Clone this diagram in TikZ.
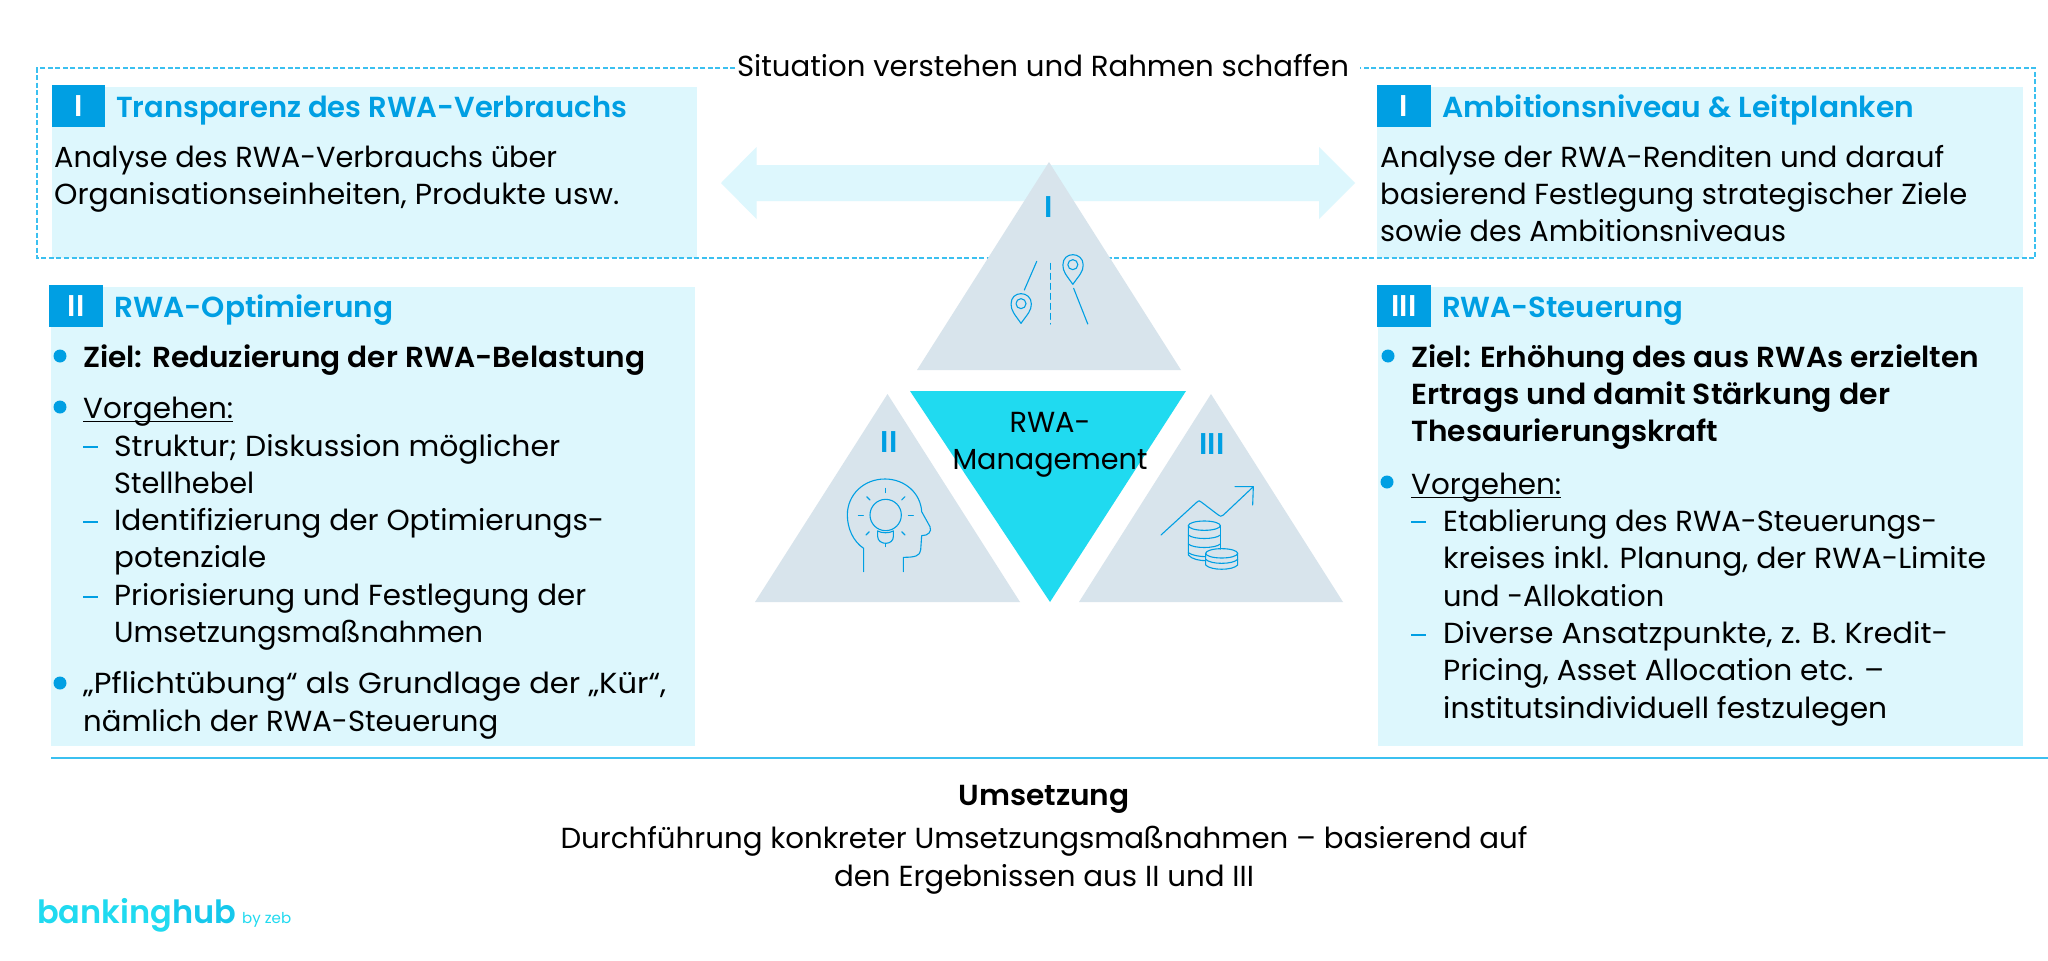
\documentclass[tikz,border=0pt]{standalone}
\usepackage{graphicx}
\usepackage{fontspec}
\setmainfont[BoldFont={Poppins SemiBold}]{Poppins}
\newcommand{\fw}[2]{\resizebox{#1pt}{\height}{#2}}
\definecolor{boxc}{HTML}{DDF7FD}
\definecolor{blue1}{HTML}{009FE3}
\definecolor{cyan1}{HTML}{20DAF0}
\definecolor{gray1}{HTML}{D8E4EC}
\definecolor{line1}{HTML}{3BC0F0}
\tikzset{
 x=1pt,y=-1pt,
 box/.style={fill=boxc,draw=none},
 badge/.style={fill=blue1,draw=none},
 tri/.style={fill=gray1,draw=none},
 head/.style={anchor=base west,inner sep=0pt,text=blue1,font=\fontsize{29}{29}\selectfont\bfseries},
 body/.style={anchor=base west,inner sep=0pt,text=black,font=\fontsize{29}{29}\selectfont},
 bodyb/.style={body,font=\fontsize{29}{29}\selectfont\bfseries},
 badgetxt/.style={anchor=center,inner sep=0pt,text=white,font=\fontsize{30}{30}\selectfont\bfseries},
 numtxt/.style={anchor=center,inner sep=0pt,text=blue1,font=\fontsize{30}{30}\selectfont\bfseries},
 bul/.style={circle,fill=blue1,inner sep=0pt,minimum size=13pt},
 dsh/.style={draw=blue1,line width=1.5pt},
 ctr/.style={anchor=base,inner sep=0pt,align=center,text=black,font=\fontsize{29}{29}\selectfont},
 ul/.style={draw=black,line width=1.7pt},
 ico/.style={draw=blue1,line width=1.1pt,fill=none,line join=round,line cap=round},
 zoomA/.style={shift={(720,150)},x=0.41459pt,y=-0.33333pt},
 zoomB/.style={x=0.33333pt,y=-0.33333pt},
 pinmark/.pic={
  \draw[ico] (0,0) .. controls (-16,-28) and (-24,-38) .. (-24,-58) .. controls (-24,-78) and (-13,-89) .. (0,-89) .. controls (13,-89) and (25,-78) .. (25,-58) .. controls (25,-38) and (16,-28) .. (0,0);
  \draw[ico] (0,-59) circle[radius=5pt];
 },
}
\begin{document}
\begin{tikzpicture}
\useasboundingbox (0,0) rectangle (2048,961);
\fill[white] (0,0) rectangle (2048,961);
% boxes
\fill[box] (52,87) rectangle (697,258);
\fill[box] (1377,87) rectangle (2023,258);
\fill[box] (51,287) rectangle (695,746);
\fill[box] (1378,287) rectangle (2023,746);
% frame
\draw[line1,line width=1.1pt,dash pattern=on 5pt off 2.5pt] (735,68) -- (37,68) -- (37,258) -- (2035,258) -- (2035,68) -- (1360,68);
% rule
\draw[line1,line width=1.2pt] (51,758) -- (2048,758);
% arrow
\fill[boxc] (721,183) -- (756.5,147) -- (756.5,165) -- (1319,165) -- (1319,147) -- (1355,183) -- (1319,219) -- (1319,201) -- (756.5,201) -- (756.5,219) -- cycle;
% triangles
\fill[tri] (1049,162) -- (1181,370) -- (917,370) -- cycle;
\fill[tri] (887.5,394) -- (1020,602) -- (755,602) -- cycle;
\fill[tri] (1211,394) -- (1343,602) -- (1079,602) -- cycle;
\fill[cyan1] (910,391) -- (1186,391) -- (1050,602) -- cycle;
% badges
\fill[badge] (52,85) rectangle (105,127);
\fill[badge] (1377,85) rectangle (1431,127);
\fill[badge] (49,285) rectangle (102.5,327);
\fill[badge] (1377,285) rectangle (1431,327);
\node[badgetxt] (b1) at (78.5,106) {I};
\node[badgetxt] (b2) at (1404,106) {I};
\node[badgetxt] (b3) at (76,306) {II};
\node[badgetxt] (b4) at (1404,306) {III};
% title
\node[ctr] (title) at (1043,76) {\fw{612}{Situation verstehen und Rahmen schaffen}};
% left top
\node[head] (h1) at (116,117) {\fw{511}{Transparenz des RWA-Verbrauchs}};
\node[body] (t1a) at (54,167) {\fw{503}{Analyse des RWA-Verbrauchs über}};
\node[body] (t1b) at (54,204) {\fw{565}{Organisationseinheiten, Produkte usw.}};
% right top
\node[head] (h2) at (1442,117) {\fw{472}{Ambitionsniveau \& Leitplanken}};
\node[body] (t2a) at (1380,167) {\fw{564}{Analyse der RWA-Renditen und darauf}};
\node[body] (t2b) at (1380,204) {\fw{587}{basierend Festlegung strategischer Ziele}};
\node[body] (t2c) at (1380,241) {\fw{406}{sowie des Ambitionsniveaus}};
% left
\node[head] (h3) at (114,317) {\fw{279}{RWA-Optimierung}};
\node[bul] (bl1) at (60,356) {};
\node[bodyb] (l1) at (83,367) {\fw{562}{Ziel: Reduzierung der RWA-Belastung}};
\node[bul] (bl2) at (60,407) {};
\node[body] (l2) at (83,418) {\fw{150}{Vorgehen:}};
\draw[ul] ([yshift=-3.5pt]l2.base west) -- ([yshift=-3.5pt]l2.base east);
\draw[dsh] (83,447) -- (98,447);
\node[body] (l3) at (114,456) {\fw{446}{Struktur; Diskussion möglicher}};
\node[body] (l4) at (114,493) {\fw{140}{Stellhebel}};
\draw[dsh] (83,522) -- (98,522);
\node[body] (l5) at (114,530) {\fw{490}{Identifizierung der Optimierungs-}};
\node[body] (l6) at (114,567) {\fw{152}{potenziale}};
\draw[dsh] (83,597) -- (98,597);
\node[body] (l7) at (114,605) {\fw{472}{Priorisierung und Festlegung der}};
\node[body] (l8) at (114,642) {\fw{369}{Umsetzungsmaßnahmen}};
\node[bul] (bl3) at (60,683) {};
\node[body] (l9) at (83,693) {\fw{583}{„Pflichtübung“ als Grundlage der „Kür“,}};
\node[body] (l10) at (83,731) {\fw{415}{nämlich der RWA-Steuerung}};
% right
\node[head] (h4) at (1442,317) {\fw{241}{RWA-Steuerung}};
\node[bul] (br1) at (1388,356) {};
\node[bodyb] (r1) at (1411,367) {\fw{568}{Ziel: Erhöhung des aus RWAs erzielten}};
\node[bodyb] (r2) at (1411,404) {\fw{479}{Ertrags und damit Stärkung der}};
\node[bodyb] (r3) at (1411,441) {\fw{307}{Thesaurierungskraft}};
\node[bul] (br2) at (1387,482) {};
\node[body] (r4) at (1411,494) {\fw{150}{Vorgehen:}};
\draw[ul] ([yshift=-3.5pt]r4.base west) -- ([yshift=-3.5pt]r4.base east);
\draw[dsh] (1411,522) -- (1426,522);
\node[body] (r5) at (1443,531) {\fw{494}{Etablierung des RWA-Steuerungs-}};
\node[body] (r6) at (1443,568) {\fw{543}{kreises inkl. Planung, der RWA-Limite}};
\node[body] (r7) at (1443,606) {\fw{221}{und -Allokation}};
\draw[dsh] (1411,635) -- (1426,635);
\node[body] (r8) at (1443,643) {\fw{505}{Diverse Ansatzpunkte, z. B. Kredit-}};
\node[body] (r9) at (1443,680) {\fw{441}{Pricing, Asset Allocation etc. –}};
\node[body] (r10) at (1443,718) {\fw{444}{institutsindividuell festzulegen}};
% centre
\node[ctr] (m1) at (1050,432) {\fw{81}{RWA-}};
\node[ctr] (m2) at (1050,469) {\fw{195}{Management}};
\node[numtxt] (n1) at (1049,207) {I};
\node[numtxt] (n2) at (889,442) {II};
\node[numtxt] (n3) at (1212,444) {III};
% road icon
\begin{scope}[zoomA]
\draw[ico] (764,334) -- (734,420);
\draw[ico,dash pattern=on 6pt off 4pt] (798,340) -- (798,522);
\draw[ico] (853,415) -- (887,522);
\pic at (851,403) {pinmark};
\pic at (726,520) {pinmark};
\end{scope}
% head icon
\begin{scope}[shift={(830,470)},zoomB]
\draw[ico] (101,305) -- (101,235) .. controls (70,215) and (52,175) .. (52,135) .. controls (52,75) and (100,27) .. (165,27) .. controls (225,27) and (272,70) .. (275,125) -- (300,170) .. controls (306,185) and (295,197) .. (275,197) -- (272,240) .. controls (270,258) and (255,262) .. (220,262) -- (220,305);
\draw[ico] (167,135) circle[radius=47];
\draw[ico] (143,183) -- (143,200) .. controls (143,212) and (155,220) .. (167,220) .. controls (180,220) and (190,212) .. (190,200) -- (190,183);
\draw[ico] (143,183) .. controls (155,190) and (178,190) .. (190,183);
\draw[ico] (167,220) -- (167,230);
\draw[ico] (167,55) -- (167,68);
\draw[ico] (110,80) -- (120,90);
\draw[ico] (225,80) -- (215,90);
\draw[ico] (85,137) -- (100,137);
\draw[ico] (235,137) -- (250,137);
\draw[ico] (108,195) -- (118,185);
\draw[ico] (225,195) -- (215,185);
\end{scope}
% chart icon
\begin{scope}[shift={(1150,470)},zoomB]
\draw[ico] (33,195) -- (140,97) .. controls (148,91) .. (155,97) -- (205,135) .. controls (212,140) .. (220,135) -- (308,52);
\draw[ico] (255,50) -- (310,50) -- (308,105);
\draw[ico] (163,167) ellipse[x radius=48,y radius=14];
\draw[ico] (115,167) -- (115,255) .. controls (125,268) and (150,272) .. (167,272);
\draw[ico] (211,167) -- (211,237);
\foreach \yy in {195,222}{\draw[ico] (115,\yy) .. controls (130,\yy+14) and (196,\yy+14) .. (211,\yy);}
\draw[ico] (115,248) .. controls (125,256) and (150,260) .. (167,260);
\draw[ico] (215,250) ellipse[x radius=48,y radius=14];
\draw[ico] (167,250) -- (167,285) .. controls (182,302) and (248,302) .. (263,285) -- (263,250);
\draw[ico] (167,268) .. controls (182,284) and (248,284) .. (263,268);
\end{scope}
% bottom
\node[ctr,font=\fontsize{29}{29}\selectfont\bfseries] (u1) at (1044,805) {\fw{171}{Umsetzung}};
\node[ctr] (u2) at (1044,848) {\fw{967}{Durchführung konkreter Umsetzungsmaßnahmen – basierend auf}};
\node[ctr] (u3) at (1044,886) {\fw{420}{den Ergebnissen aus II und III}};
% logo
\node[anchor=base west,inner sep=0pt,text=cyan1,font=\fontsize{32}{32}\selectfont\bfseries] (logo) at (37,923) {\fw{199}{banking\textcolor{cyan1!70!blue1}{hub}}};
\node[anchor=base west,inner sep=0pt,text=cyan1,font=\fontsize{15}{15}\selectfont] (logo2) at (242,923) {\fw{49}{by zeb}};
\end{tikzpicture}
\end{document}
